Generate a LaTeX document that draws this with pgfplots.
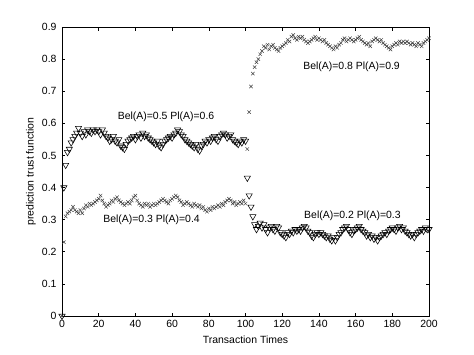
\documentclass[border=0pt]{standalone}
\usepackage{fontspec}
\setmainfont{Liberation Sans}
\usepackage{pgfplots}
\pgfplotsset{compat=1.18}
\usepackage{pgfplotstable}
\pgfplotstableread{
x y
0 0.00
1 0.40
2 0.47
3 0.51
4 0.52
5 0.54
6 0.55
7 0.56
8 0.57
9 0.585
10 0.57
11 0.56
12 0.575
13 0.565
14 0.58
15 0.575
16 0.57
17 0.58
18 0.575
19 0.58
20 0.575
21 0.565
22 0.58
23 0.57
24 0.56
25 0.555
26 0.545
27 0.55
28 0.56
29 0.545
30 0.54
31 0.55
32 0.53
33 0.525
34 0.52
35 0.535
36 0.545
37 0.55
38 0.555
39 0.56
40 0.55
41 0.56
42 0.565
43 0.555
44 0.57
45 0.56
46 0.565
47 0.555
48 0.55
49 0.545
50 0.54
51 0.535
52 0.545
53 0.53
54 0.525
55 0.535
56 0.545
57 0.55
58 0.555
59 0.56
60 0.555
61 0.565
62 0.57
63 0.58
64 0.575
65 0.565
66 0.56
67 0.55
68 0.545
69 0.54
70 0.535
71 0.53
72 0.525
73 0.535
74 0.52
75 0.515
76 0.53
77 0.535
78 0.545
79 0.54
80 0.55
81 0.545
82 0.555
83 0.56
84 0.55
85 0.545
86 0.56
87 0.565
88 0.57
89 0.565
90 0.555
91 0.56
92 0.565
93 0.55
94 0.545
95 0.54
96 0.535
97 0.545
98 0.54
99 0.55
100 0.545
101 0.43
102 0.375
103 0.34
104 0.31
105 0.285
106 0.27
107 0.28
108 0.29
109 0.275
110 0.285
111 0.27
112 0.26
113 0.275
114 0.28
115 0.27
116 0.265
117 0.28
118 0.275
119 0.26
120 0.255
121 0.25
122 0.245
123 0.26
124 0.255
125 0.265
126 0.26
127 0.27
128 0.265
129 0.27
130 0.265
131 0.275
132 0.28
133 0.275
134 0.265
135 0.26
136 0.25
137 0.245
138 0.255
139 0.26
140 0.255
141 0.26
142 0.255
143 0.25
144 0.245
145 0.25
146 0.24
147 0.235
148 0.245
149 0.235
150 0.245
151 0.255
152 0.26
153 0.27
154 0.275
155 0.28
156 0.27
157 0.26
158 0.255
159 0.265
160 0.27
161 0.275
162 0.28
163 0.27
164 0.265
165 0.26
166 0.25
167 0.255
168 0.245
169 0.25
170 0.24
171 0.245
172 0.235
173 0.245
174 0.25
175 0.255
176 0.26
177 0.255
178 0.265
179 0.27
180 0.275
181 0.27
182 0.265
183 0.275
184 0.28
185 0.27
186 0.275
187 0.265
188 0.26
189 0.255
190 0.25
191 0.255
192 0.245
193 0.255
194 0.26
195 0.265
196 0.27
197 0.265
198 0.275
199 0.27
200 0.27
}\tri
\pgfplotstableread{
x y
0 0.00
1 0.23
2 0.31
3 0.32
4 0.325
5 0.33
6 0.34
7 0.33
8 0.325
9 0.32
10 0.33
11 0.32
12 0.335
13 0.345
14 0.34
15 0.35
16 0.345
17 0.35
18 0.355
19 0.36
20 0.365
21 0.375
22 0.36
23 0.35
24 0.34
25 0.345
26 0.35
27 0.36
28 0.355
29 0.365
30 0.37
31 0.36
32 0.355
33 0.35
34 0.345
35 0.35
36 0.355
37 0.35
38 0.36
39 0.37
40 0.375
41 0.36
42 0.35
43 0.345
44 0.34
45 0.35
46 0.345
47 0.35
48 0.34
49 0.345
50 0.35
51 0.345
52 0.35
53 0.355
54 0.36
55 0.365
56 0.36
57 0.355
58 0.35
59 0.36
60 0.365
61 0.37
62 0.375
63 0.37
64 0.36
65 0.355
66 0.345
67 0.35
68 0.355
69 0.35
70 0.345
71 0.34
72 0.35
73 0.345
74 0.34
75 0.345
76 0.335
77 0.34
78 0.33
79 0.325
80 0.335
81 0.33
82 0.34
83 0.335
84 0.34
85 0.345
86 0.34
87 0.35
88 0.345
89 0.355
90 0.36
91 0.365
92 0.36
93 0.35
94 0.355
95 0.345
96 0.35
97 0.355
98 0.35
99 0.36
100 0.35
101 0.52
102 0.635
103 0.715
104 0.755
105 0.775
106 0.79
107 0.80
108 0.815
109 0.825
110 0.84
111 0.835
112 0.845
113 0.83
114 0.84
115 0.845
116 0.835
117 0.83
118 0.825
119 0.835
120 0.84
121 0.845
122 0.85
123 0.86
124 0.855
125 0.87
126 0.875
127 0.865
128 0.86
129 0.87
130 0.865
131 0.87
132 0.86
133 0.855
134 0.85
135 0.855
136 0.86
137 0.865
138 0.87
139 0.86
140 0.865
141 0.86
142 0.855
143 0.86
144 0.85
145 0.845
146 0.84
147 0.835
148 0.83
149 0.84
150 0.835
151 0.845
152 0.85
153 0.86
154 0.865
155 0.855
156 0.86
157 0.865
158 0.86
159 0.855
160 0.86
161 0.865
162 0.87
163 0.86
164 0.855
165 0.85
166 0.845
167 0.85
168 0.84
169 0.855
170 0.86
171 0.865
172 0.86
173 0.855
174 0.86
175 0.85
176 0.845
177 0.84
178 0.835
179 0.83
180 0.84
181 0.845
182 0.85
183 0.845
184 0.855
185 0.85
186 0.855
187 0.85
188 0.855
189 0.85
190 0.845
191 0.85
192 0.845
193 0.84
194 0.85
195 0.845
196 0.84
197 0.85
198 0.855
199 0.86
200 0.865
}\crs
\begin{document}
\begin{tikzpicture}
\useasboundingbox (-62bp,-39bp) rectangle (412bp,316bp);
\begin{axis}[
  at={(0,0)}, anchor=south west,
  scale only axis,
  width=367bp, height=289bp,
  xmin=0, xmax=200, ymin=0, ymax=0.9,
  xtick={0,20,...,200},
  ytick={0,0.1,0.2,0.3,0.4,0.5,0.6,0.7,0.8,0.9},
  yticklabel style={/pgf/number format/fixed,/pgf/number format/precision=1},
  /pgf/number format/assume math mode=true,
  tick align=inside,
  major tick length=3.5bp,
  tick style={black, line width=0.6pt},
  axis line style={black, line width=0.7pt},
  font=\fontsize{10.5}{12}\selectfont,
  ticklabel style={font=\fontsize{10.5}{12}\selectfont},
  xticklabel style={yshift=-1bp},
  yticklabel style={xshift=-2bp},
  xlabel={Transaction Times},
  ylabel={prediction trust function},
  xlabel style={at={(axis description cs:0.5,-0.083)}, anchor=center},
  ylabel style={at={(axis description cs:-0.0845,0.5)}, anchor=center},
  clip=false,
]
\addplot[only marks, mark=triangle, mark size=3.6pt, mark options={rotate=180, black, line width=0.55pt, fill=white}] table[x=x,y=y] {\tri};
\addplot[only marks, mark=x, mark size=2.4pt, mark options={black!75, line width=0.5pt}] table[x=x,y=y] {\crs};
\node[font=\fontsize{10.5}{12}\selectfont] at (axis cs:56.7,0.62) {Bel(A)=0.5 Pl(A)=0.6};
\node[font=\fontsize{10.5}{12}\selectfont] at (axis cs:157.8,0.775) {Bel(A)=0.8 Pl(A)=0.9};
\node[font=\fontsize{10.5}{12}\selectfont] at (axis cs:48.8,0.299) {Bel(A)=0.3 Pl(A)=0.4};
\node[font=\fontsize{10.5}{12}\selectfont] at (axis cs:158.3,0.311) {Bel(A)=0.2 Pl(A)=0.3};
\end{axis}
\end{tikzpicture}
\end{document}
